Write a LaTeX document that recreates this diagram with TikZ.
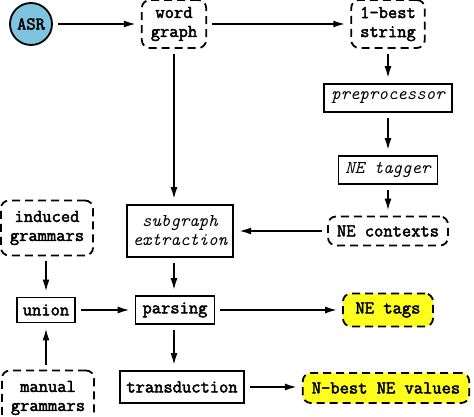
\documentclass[tikz,border=0pt]{standalone}
\usepackage{fontspec}
\setmonofont{Latin Modern Mono}[AutoFakeBold=2.5]
\usetikzlibrary{arrows.meta}
\tikzset{every picture/.style={line width=1.8pt}}
\definecolor{asrblue}{RGB}{126,196,222}
\definecolor{neyellow}{RGB}{255,255,30}
\newcommand{\boxfont}{\ttfamily\fontsize{18}{19}\selectfont}

\begin{document}
\begin{tikzpicture}[x=1pt, y=-1pt, >={Latex[length=12pt,width=7pt]},
    every node/.style={font=\boxfont, align=center},
    proc/.style={draw, rectangle, minimum height=28pt, inner xsep=7pt, font=\boxfont\itshape},
    procb/.style={proc, font=\boxfont\bfseries},
    data/.style={draw, dash pattern=on 8pt off 5pt, rounded corners=8pt, minimum height=30pt, inner xsep=9pt, font=\boxfont\bfseries},
    result/.style={data, fill=neyellow},
    flow/.style={->, shorten <=5pt, shorten >=5pt}]
        \useasboundingbox (0,0) rectangle (474,417);
        \node[circle, draw, fill=asrblue, minimum size=42pt, inner sep=0pt, font=\boxfont\bfseries] (asr) at (31,24) {ASR};
        \node[data, minimum height=48pt] (word)  at (174,24)  {word\\graph};
        \node[data, minimum height=48pt] (best)  at (388,24)  {1-best\\string};
        \node[proc] (prep)   at (388,98)  {preprocessor};
        \node[proc] (tagger) at (388,170) {NE tagger};
        \node[data, minimum height=29pt] (ctx) at (388,231) {NE contexts};
        \node[proc, minimum height=52pt, inner xsep=6pt] (sub) at (180,231) {subgraph\\extraction};
        \node[data, minimum height=55pt] (induced) at (47,228) {induced\\grammars};
        \node[procb, minimum height=25pt, inner xsep=6pt] (union) at (46,310) {union};
        \node[procb] (parsing) at (175,310) {parsing};
        \node[result, minimum width=90pt, minimum height=33pt] (tags) at (388,310) {NE tags};
        \node[procb, minimum height=32pt, inner xsep=6pt] (trans) at (182,387) {transduction};
        \node[result] (nbest) at (386,388) {N-best NE values};
        \node[data, minimum height=55pt] (manual) at (48,398) {manual\\grammars};
        % top row
        \draw[flow] (asr) -- (word);
        \draw[flow] (word) -- (best);
        % NE tagging column
        \draw[flow] (best) -- (prep);
        \draw[flow] (prep) -- (tagger);
        \draw[flow] (tagger) -- (ctx);
        \draw[flow] (ctx) -- (sub);
        % main column
        \draw[flow] (word) -- (word |- sub.north);
        \draw[flow] (sub.south -| word) -- (word |- parsing.north);
        \draw[flow] (parsing.south -| word) -- (word |- trans.north);
        % grammars
        \draw[flow] (induced.south -| union) -- (union);
        \draw[flow] (manual.north -| union) -- (union);
        \draw[flow] (union) -- (parsing);
        % outputs
        \draw[flow] (parsing) -- (tags);
        \draw[flow] (trans) -- (trans -| nbest.west);
    \end{tikzpicture}
\end{document}
